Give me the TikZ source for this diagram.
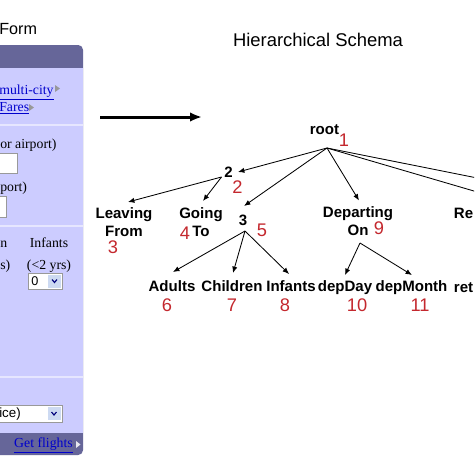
\documentclass[tikz,border=0pt]{standalone}
\usepackage{fontspec}
\setmainfont{Liberation Serif}
\newfontfamily\arialfont{Liberation Sans}
\usetikzlibrary{calc,arrows.meta}
\definecolor{formbar}{RGB}{102,102,153}
\definecolor{formbody}{RGB}{204,204,255}
\definecolor{formline}{RGB}{230,230,255}
\definecolor{linkblue}{RGB}{0,0,204}
\definecolor{numred}{RGB}{196,40,46}
\definecolor{btnblue}{RGB}{205,218,242}
\def\dropbutton(#1,#2){\fill[btnblue] (#1,#2) rectangle ++(13,13); \draw[chev] ($(#1,#2)+(4,5)$) -- ++(2.5,3) -- ++(2.5,-3);}

\begin{document}
\begin{tikzpicture}[x=0.25mm, y=-0.25mm,
	term/.style={font=\arialfont\bfseries\fontsize{10.7}{12.8}\selectfont, align=center, inner sep=0pt},
	num/.style={font=\arialfont\fontsize{13}{15}\selectfont, text=numred, inner sep=0pt},
	branch/.style={-{Latex[length=1.6mm,width=1.3mm]}, line width=0.6pt},
	formtext/.style={font=\fontsize{9.8}{11}\selectfont, inner sep=0pt, anchor=base west},
	formlink/.style={formtext, text=linkblue},
	field/.style={fill=white, draw=black!40, line width=0.5pt},
	chev/.style={draw=linkblue!60!black, line width=0.8pt}]
			%%%%% START %%%%%
			
			\useasboundingbox (0,0) rectangle (474,474);
			\clip (0,0) rectangle (474,474);
			\fill[white] (0,0) rectangle (474,474);
			
			% form on the left
			\node[font=\arialfont\fontsize{11.5}{14}\selectfont, inner sep=0pt, anchor=west] (formtitle) at (-1,29) {Form};
			
			\fill[formbar, rounded corners=1.2mm] (-10,45) rectangle (83,455);
			\fill[formbody] (-10,68) rectangle (83,433);
			\draw[formline, line width=0.3mm] (-10,125) -- (83,125);
			\draw[formline, line width=0.3mm] (-10,226) -- (83,226);
			\draw[formline, line width=0.3mm] (-10,377) -- (83,377);
			
			\node[formlink] (multicity) at (-1,94) {\underline{multi-city}};
			\fill[black!40] (55,85) -- (60,88.5) -- (55,92) -- cycle;
			\node[formlink] (fares) at (-1,111) {\underline{Fares}};
			\fill[black!40] (29,104) -- (34,107.5) -- (29,111) -- cycle;
			
			\node[formtext] (from) at (0,148) {or airport)};
			\draw[field] (-10,153) rectangle (17,173);
			\node[formtext] (to) at (0,191) {port)};
			\draw[field] (-10,196) rectangle (6,217);
			
			\node[formtext] (childa) at (0,247) {n};
			\node[formtext] (childb) at (0,269) {s)};
			\node[formtext, anchor=base] (infa) at (49,247) {Infants};
			\node[formtext, anchor=base] (infb) at (49,269) {(<2 yrs)};
			\draw[field] (28,273) rectangle (62,289);
			\dropbutton(48,274.5)
			\node[font=\arialfont\fontsize{9}{11}\selectfont, inner sep=0pt, anchor=base west] (infcount) at (31,285.5) {0};
			
			\draw[field] (-10,405) rectangle (62,422);
			\dropbutton(47.5,407)
			\node[font=\arialfont\fontsize{9.5}{11}\selectfont, inner sep=0pt, anchor=base west] (cabin) at (-1,417.5) {ice)};
			
			\node[formlink, anchor=base] (getflights) at (43.5,447) {\underline{Get flights}};
			\fill[white!85!formbar] (76,441) -- (80.5,444.5) -- (76,448) -- cycle;
			
			% big arrow
			\coordinate (arrowtail) at (100,117);
			\coordinate (arrowhead) at (202,117);
			\draw[line width=0.75mm, -{Latex[length=3mm,width=2.4mm]}] (arrowtail) -- (arrowhead);
			
			% schema tree
			\node[font=\arialfont\fontsize{13.1}{15}\selectfont, inner sep=0pt] (schematitle) at (318,40) {Hierarchical Schema};
			
			\node[term] (root) at (324.5,130) {root};
			\node[term] (two) at (228.5,172) {2};
			\node[term] (leaving) at (124,222.5) {Leaving\\From};
			\node[term] (going) at (201,222.5) {Going\\To};
			\node[term] (three) at (243,220) {3};
			\node[term] (departing) at (358,221.5) {Departing\\On};
			\node[term, anchor=east] (returning) at (473.5,213.5) {Re};
			\node[term] (adults) at (172,286) {Adults};
			\node[term] (children) at (232,286) {Children};
			\node[term] (infants) at (291,286) {Infants};
			\node[term] (depday) at (345,287.5) {depDay};
			\node[term] (depmonth) at (411.5,287.5) {depMonth};
			\node[term, anchor=east] (ret) at (473.5,288) {ret};
			
			\node[num] (n1) at (344,140) {1};
			\node[num] (n2) at (237.5,187) {2};
			\node[num] (n3) at (113,247) {3};
			\node[num] (n4) at (185,233.5) {4};
			\node[num] (n5) at (262,230) {5};
			\node[num] (n6) at (167,305) {6};
			\node[num] (n7) at (232,305) {7};
			\node[num] (n8) at (285,305) {8};
			\node[num] (n9) at (379,228.5) {9};
			\node[num] (n10) at (357,305) {10};
			\node[num] (n11) at (420,305) {11};
			
			\coordinate (offa) at (560,194.5);
			\coordinate (offb) at (520,204.5);
			
			\draw[branch] ($(root)+(2.5,18)$) -- ($(two)+(9.5,0)$);
			\draw[branch] ($(root)+(2.5,18)$) -- ($(three)+(1,-14)$);
			\draw[branch] ($(root)+(2.5,18)$) -- ($(departing)+(1,-21)$);
			\draw[branch] ($(root)+(2.5,18)$) -- (offa);
			\draw[branch] ($(root)+(2.5,18)$) -- (offb);
			
			\draw[branch] ($(two)+(-7,5)$) -- ($(leaving)+(4,-20.5)$);
			\draw[branch] ($(two)+(-7,5)$) -- ($(going)+(2,-21.5)$);
			
			\draw[branch] ($(three)+(2,11)$) -- ($(adults)+(1,-14)$);
			\draw[branch] ($(three)+(2,11)$) -- ($(children)+(1,-13)$);
			\draw[branch] ($(three)+(2,11)$) -- ($(infants)+(-2,-12)$);
			
			\draw[branch] ($(departing)+(2,21.5)$) -- ($(depday)+(0,-12.5)$);
			\draw[branch] ($(departing)+(2,21.5)$) -- ($(depmonth)+(0.5,-12.5)$);
			
			%%%%% END %%%%%
\end{tikzpicture}
\end{document}
